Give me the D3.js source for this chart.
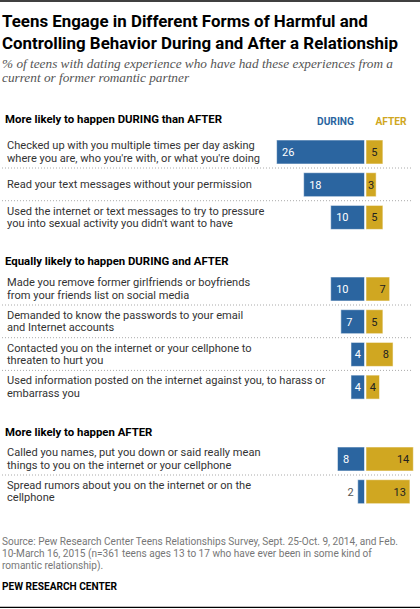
<!DOCTYPE html>
<html>
<head>
<meta charset="utf-8">
<script src="https://cdn.jsdelivr.net/npm/d3@7"></script>
<style>
  body { margin: 0; background: #fff; }
  svg { display: block; }
  .title { font-family: Roboto, sans-serif; font-weight: bold; font-size: 17px; fill: #000; }
  .subtitle { font-family: "Liberation Serif", serif; font-style: italic; font-size: 13px; fill: #555; }
  .group { font-family: Roboto, sans-serif; font-weight: bold; font-size: 11px; fill: #000; }
  .label { font-family: Roboto, sans-serif; font-size: 11px; fill: #333; }
  .legend { font-family: Roboto, sans-serif; font-weight: bold; font-size: 10.5px; }
  .val { font-family: Roboto, sans-serif; font-size: 11px; }
  .source { font-family: Roboto, sans-serif; font-size: 10px; fill: #777; }
  .credit { font-family: Roboto, sans-serif; font-weight: bold; font-size: 10px; fill: #000; }
</style>
</head>
<body>
<div class="one"></div>
<script>
// chart data
let groupTitles = [
  "More likely to happen DURING than AFTER",
  "Equally likely to happen DURING and AFTER",
  "More likely to happen AFTER"
];
let categories = [
  "Checked up with you multiple times per day asking\nwhere you are, who you're with, or what you're doing",
  "Read your text messages without your permission",
  "Used the internet or text messages to try to pressure\nyou into sexual activity you didn't want to have",
  "Made you remove former girlfriends or boyfriends\nfrom your friends list on social media",
  "Demanded to know the passwords to your email\nand Internet accounts",
  "Contacted you on the internet or your cellphone to\nthreaten to hurt you",
  "Used information posted on the internet against you, to harass or\nembarrass you",
  "Called you names, put you down or said really mean\nthings to you on the internet or your cellphone",
  "Spread rumors about you on the internet or on the\ncellphone"
];
let groupOf = [0, 0, 0, 1, 1, 1, 1, 2, 2];
let during = [26, 18, 10, 10, 7, 4, 4, 8, 2];
let after = [5, 3, 5, 7, 5, 8, 4, 14, 13];
let seriesNames = ["DURING", "AFTER"];

let blue = "#2b65a0", gold = "#d0a721";
let width = 420, height = 609;

let svg = d3.select(".one").append("svg")
  .attr("width", width)
  .attr("height", height);

// squeeze a class of texts so a reference line gets the measured width
let fitTexts = function(sel, refWidth, refNode) {
  let ratio = refWidth / refNode.getComputedTextLength();
  sel.each(function() {
    let w = this.getComputedTextLength();
    d3.select(this).attr("textLength", w * ratio).attr("lengthAdjust", "spacingAndGlyphs");
  });
};

// frame lines
svg.append("line").attr("x1", 0).attr("x2", width).attr("y1", 1).attr("y2", 1)
  .attr("stroke", "#000").attr("stroke-width", 1.6);
svg.append("line").attr("x1", 0).attr("x2", width).attr("y1", 607.3).attr("y2", 607.3)
  .attr("stroke", "#000").attr("stroke-width", 1.3);

// title + subtitle
let titleLines = ["Teens Engage in Different Forms of Harmful and",
  "Controlling Behavior During and After a Relationship"];
let title = svg.selectAll(".title").data(titleLines).enter().append("text")
  .attr("class", "title").attr("x", 2).attr("y", (d, i) => 27 + i * 22).text(d => d);
fitTexts(title, 396, title.nodes()[1]);

let subLines = ["% of teens with dating experience who have had these experiences from a",
  "current or former romantic partner"];
let sub = svg.selectAll(".subtitle").data(subLines).enter().append("text")
  .attr("class", "subtitle").attr("x", 2).attr("y", (d, i) => 67.5 + i * 14.5).text(d => d);
fitTexts(sub, 391, sub.nodes()[0]);

// layout of rows
let groupStart = [140, 277, 447];
let headerGap = [16.7, 12, 11.5];
let pitch = 32.7, barH = 24;
let rowIndex = groupOf.map((g, i) => groupOf.slice(0, i).filter(x => x === g).length);
let rowTop = groupOf.map((g, i) => groupStart[g] + rowIndex[i] * pitch);

let zero = 364.5, gap = 1.5;
let xScale = d3.scaleLinear().domain([0, 1]).range([0, 3.38]);

// group headers
let heads = svg.selectAll(".group").data(groupTitles).enter().append("text")
  .attr("class", "group").attr("x", 5)
  .attr("y", (d, i) => groupStart[i] - headerGap[i]).text(d => d);
fitTexts(heads, 217, heads.nodes()[0]);

// legend
svg.append("text").attr("class", "legend").attr("x", zero - 10.5).attr("y", 125)
  .attr("text-anchor", "end").attr("fill", blue).text(seriesNames[0]);
svg.append("text").attr("class", "legend").attr("x", zero + gap + 9.5).attr("y", 125)
  .attr("fill", gold).text(seriesNames[1]);
fitTexts(svg.selectAll(".legend"), 37, svg.select(".legend").node());

// separators between rows of the same group
let seps = d3.range(categories.length).filter(i => i + 1 < categories.length && groupOf[i + 1] === groupOf[i]);
svg.selectAll(".sep").data(seps).enter().append("line")
  .attr("class", "sep")
  .attr("x1", 2).attr("x2", 413)
  .attr("y1", i => rowTop[i] + 28).attr("y2", i => rowTop[i] + 28)
  .attr("stroke", "#aaa").attr("stroke-width", 1).attr("stroke-dasharray", "1,2");

// row labels
let lineH = 12.5;
let labels = svg.selectAll(".label").data(categories).enter().append("text")
  .attr("class", "label");
labels.each(function(d, i) {
  let lines = d.split("\n");
  let first = rowTop[i] + barH / 2 - (lines.length - 1) * lineH / 2 + 3.5;
  d3.select(this).selectAll("tspan").data(lines).enter().append("tspan")
    .attr("x", 7).attr("y", (l, j) => first + j * lineH).text(l => l);
});
let labelSpans = labels.selectAll("tspan");
fitTexts(labelSpans, 253, labels.nodes()[0].childNodes[1]);

// DURING bars grow leftwards from zero
svg.selectAll(".during").data(during).enter().append("rect")
  .attr("class", "during")
  .attr("x", d => zero - xScale(d)).attr("y", (d, i) => rowTop[i])
  .attr("width", d => xScale(d)).attr("height", barH)
  .attr("fill", blue).attr("stroke", "#fff").attr("stroke-opacity", 0.55).attr("stroke-width", 1);

// AFTER bars grow rightwards
svg.selectAll(".after").data(after).enter().append("rect")
  .attr("class", "after")
  .attr("x", zero + gap).attr("y", (d, i) => rowTop[i])
  .attr("width", d => xScale(d)).attr("height", barH)
  .attr("fill", gold).attr("stroke", "#fff").attr("stroke-opacity", 0.55).attr("stroke-width", 1);

// value labels
svg.selectAll(".vd").data(during).enter().append("text")
  .attr("class", "val vd")
  .attr("x", d => d >= 4 ? zero - xScale(d) + (d < 6 ? xScale(d) / 2 : 5.5) : zero - xScale(d) - 4)
  .attr("text-anchor", d => d >= 4 && d < 6 ? "middle" : (d >= 4 ? "start" : "end"))
  .attr("y", (d, i) => rowTop[i] + barH / 2 + 4)
  .attr("fill", d => d >= 4 ? "#fff" : "#555")
  .text(d => d);

svg.selectAll(".va").data(after).enter().append("text")
  .attr("class", "val va")
  .attr("x", d => d >= 6 ? zero + gap + xScale(d) - 4 : zero + gap + xScale(d) / 2)
  .attr("text-anchor", d => d >= 6 ? "end" : "middle")
  .attr("y", (d, i) => rowTop[i] + barH / 2 + 4)
  .attr("fill", "#222")
  .text(d => d);

// footer
let sourceLines = [
  "Source: Pew Research Center Teens Relationships Survey, Sept. 25-Oct. 9, 2014, and Feb.",
  "10-March 16, 2015 (n=361 teens ages 13 to 17 who have ever been in some kind of",
  "romantic relationship)."
];
let src = svg.selectAll(".source").data(sourceLines).enter().append("text")
  .attr("class", "source").attr("x", 2).attr("y", (d, i) => 544.7 + i * 12).text(d => d);
fitTexts(src, 396, src.nodes()[0]);

let credit = svg.append("text").attr("class", "credit").attr("x", 2).attr("y", 590)
  .text("PEW RESEARCH CENTER");
fitTexts(credit, 115, credit.node());
</script>
</body>
</html>
